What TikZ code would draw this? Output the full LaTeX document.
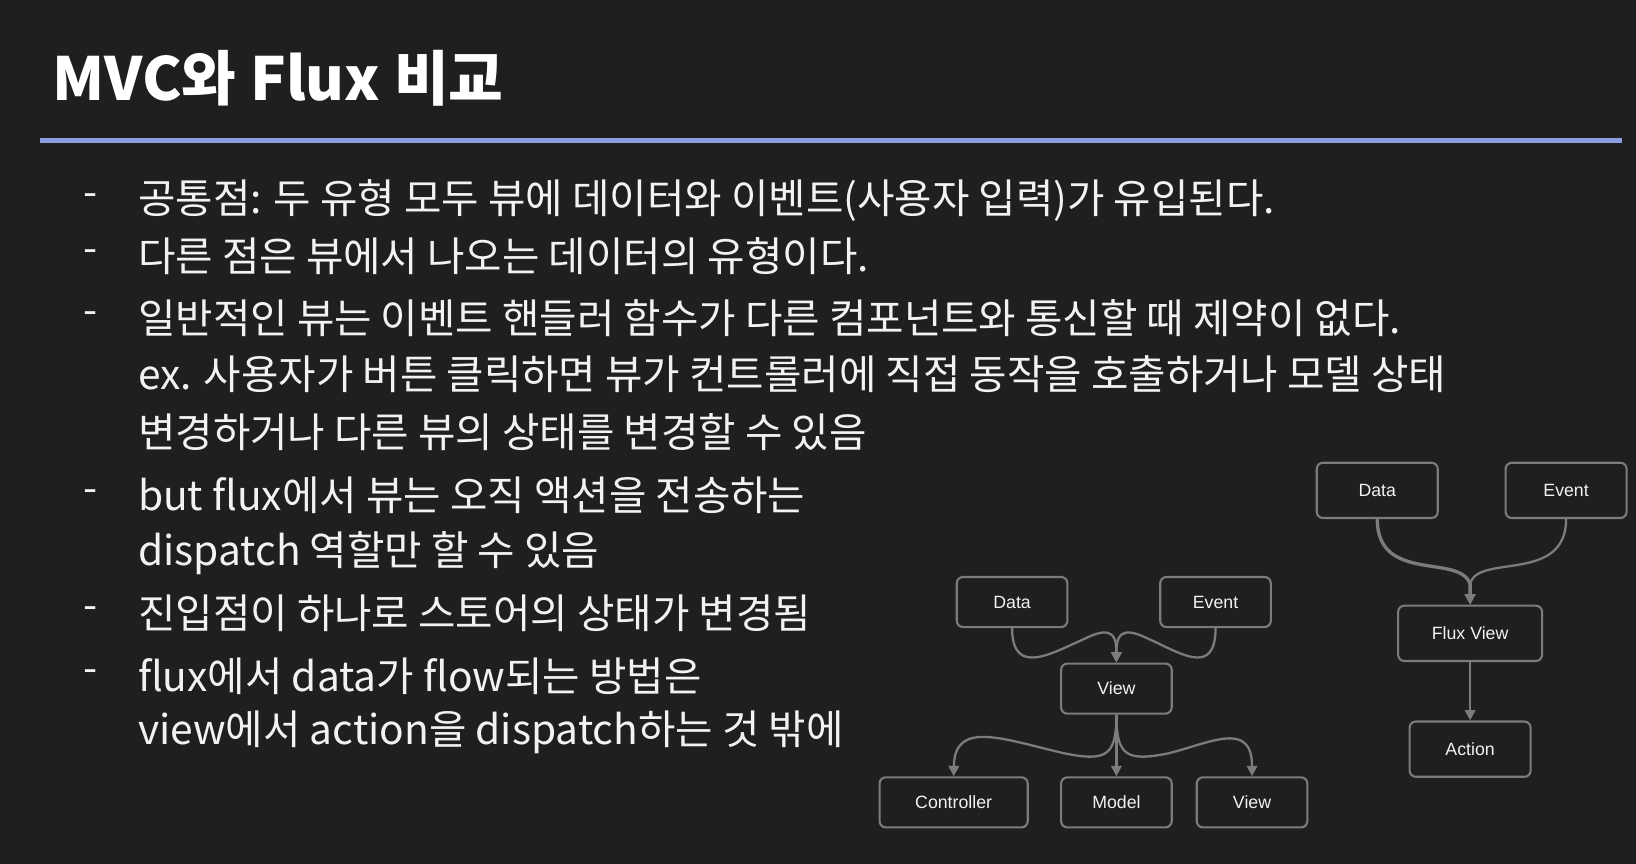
\documentclass[tikz,border=0pt]{standalone}
\usepackage{fontspec}
\usetikzlibrary{arrows.meta}
\setmainfont{Noto Sans CJK KR}
\newfontfamily\diafont{Liberation Sans}
\definecolor{bg}{HTML}{1F1F1F}
\definecolor{txt}{HTML}{F2F2F2}
\definecolor{bar}{HTML}{8A9EE0}
\definecolor{ln}{HTML}{7C7C7C}
\begin{document}
\begin{tikzpicture}[x=0.5pt,y=-0.5pt,
  body/.style={anchor=west,inner sep=0,text=txt,font=\fontsize{19.5}{22}\selectfont},
  dsh/.style={anchor=west,inner sep=0,text=txt,font=\fontsize{19.5}{22}\selectfont},
  box/.style={draw=ln,line width=1pt,rounded corners=3pt,fill=bg,text=txt,font=\diafont\fontsize{8.5}{10}\selectfont},
  conn/.style={draw=ln,line width=1.1pt,-{Triangle[length=5pt,width=5pt]}}]
\fill[bg] (0,0) rectangle (1568,828);
\useasboundingbox (0,0) rectangle (1568,828);
\node[anchor=west,inner sep=0,text=white,font=\bfseries\fontsize{28.5}{30}\selectfont] (title) at (50,75) {MVC와 Flux 비교};
\draw[bar,line width=2.5pt] (38,135) coordinate (b1) -- (1555,135) coordinate (b2);
\foreach \y/\n in {192/d1,245/d2,305/d3,475/d4,588/d5,648/d6}{
  \node[dsh] (\n) at (80,\y) {-};}
\node[body] (l1) at (132,192) {공통점: 두 유형 모두 뷰에 데이터와 이벤트(사용자 입력)가 유입된다.};
\node[body] (l2) at (132,245) {다른 점은 뷰에서 나오는 데이터의 유형이다.};
\node[body] (l3) at (132,305) {일반적인 뷰는 이벤트 핸들러 함수가 다른 컴포넌트와 통신할 때 제약이 없다.};
\node[body] (l4) at (132,359) {ex. 사용자가 버튼 클릭하면 뷰가 컨트롤러에 직접 동작을 호출하거나 모델 상태};
\node[body] (l5) at (132,414) {변경하거나 다른 뷰의 상태를 변경할 수 있음};
\node[body] (l6) at (132,475) {but flux에서 뷰는 오직 액션을 전송하는};
\node[body] (l7) at (132,530) {dispatch 역할만 할 수 있음};
\node[body] (l8) at (132,588) {진입점이 하나로 스토어의 상태가 변경됨};
\node[body] (l9) at (132,648) {flux에서 data가 flow되는 방법은};
\node[body] (l10) at (132,702) {view에서 action을 dispatch하는 것 밖에};
% MVC diagram
\node[box,minimum width=53pt,minimum height=24pt] (md) at (970,577) {Data};
\node[box,minimum width=53pt,minimum height=24pt] (me) at (1165,577) {Event};
\node[box,minimum width=53pt,minimum height=24pt] (mv) at (1070,660) {View};
\node[box,minimum width=71pt,minimum height=24pt] (mc) at (914,769) {Controller};
\node[box,minimum width=53pt,minimum height=24pt] (mm) at (1070,769) {Model};
\node[box,minimum width=53pt,minimum height=24pt] (mv2) at (1200,769) {View};
\draw[conn] (md.south) .. controls (970,650) and (1010,625) .. (1040,612) .. controls (1068,598) and (1070,612) .. (mv.north);
\draw[conn] (me.south) .. controls (1165,650) and (1130,625) .. (1100,612) .. controls (1072,598) and (1070,612) .. (mv.north);
\draw[conn] (mv.south) -- (mm.north);
\draw[conn] (mv.south) .. controls (1070,725) and (1060,730) .. (1020,722) .. controls (960,708) and (915,690) .. (mc.north);
\draw[conn] (mv.south) .. controls (1070,725) and (1080,730) .. (1120,722) .. controls (1160,712) and (1200,690) .. (mv2.north);
% Flux diagram
\node[box,minimum width=58pt,minimum height=26.5pt] (fd) at (1320,470) {Data};
\node[box,minimum width=58pt,minimum height=26.5pt] (fe) at (1501,470) {Event};
\node[box,minimum width=69pt,minimum height=26.5pt] (fv) at (1409,607) {Flux View};
\node[box,minimum width=58pt,minimum height=26.5pt] (fa) at (1409,718) {Action};
\draw[conn,line width=1.6pt] (fd.south) .. controls (1320,560) and (1400,530) .. (1409,560) -- (fv.north);
\draw[conn] (fe.south) .. controls (1501,560) and (1415,530) .. (1409,560) -- (fv.north);
\draw[conn] (fv.south) -- (fa.north);
\end{tikzpicture}
\end{document}
